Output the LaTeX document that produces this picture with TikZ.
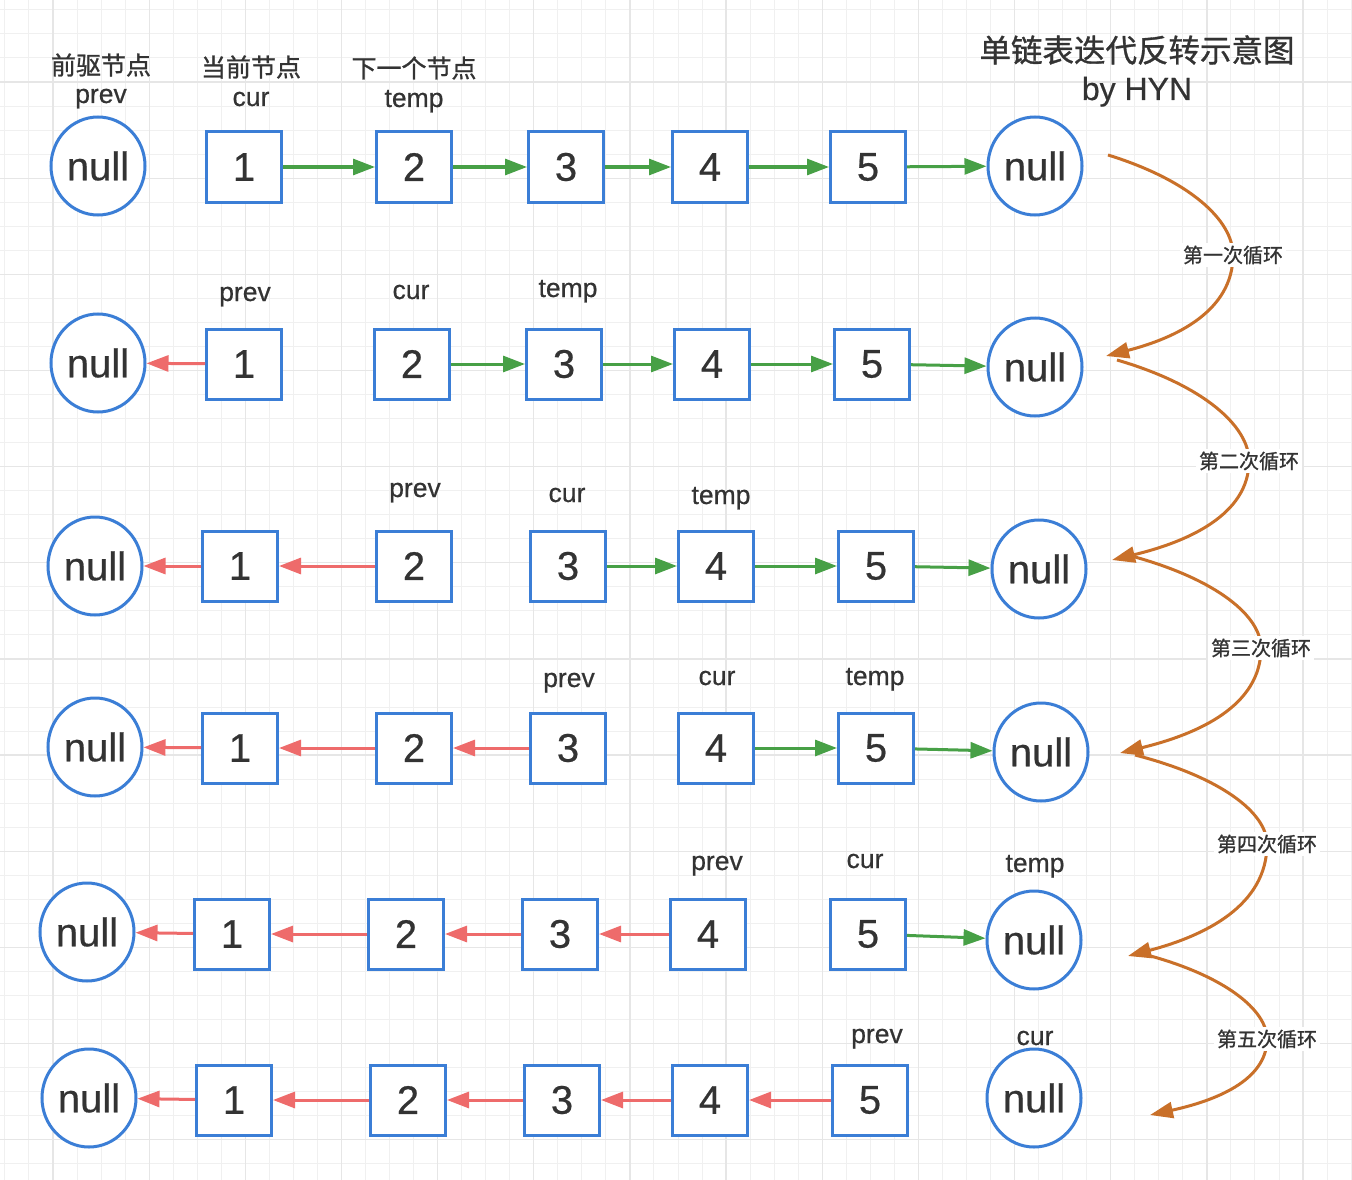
\documentclass[tikz,border=0pt]{standalone}
\usepackage{fontspec}
\setmainfont[FakeBold=0.5]{Liberation Sans}
\newfontfamily\cjk[FakeBold=1]{Noto Sans CJK SC}
\usetikzlibrary{arrows.meta,shapes.geometric}
\definecolor{nblue}{HTML}{3B7ED6}
\definecolor{ngreen}{HTML}{47A046}
\definecolor{nred}{HTML}{EE6B6B}
\definecolor{norange}{HTML}{C97029}
\definecolor{ntext}{HTML}{333333}
\definecolor{gminor}{HTML}{F0F0F0}
\definecolor{gmajor}{HTML}{E6E6E6}
\begin{document}
\begin{tikzpicture}[x=1pt,y=-1pt,
  box/.style={draw=nblue, line width=3pt, fill=white, minimum width=75pt, minimum height=70pt, inner sep=0pt, text=ntext, font=\fontsize{40}{48}\selectfont},
  nul/.style={ellipse, draw=nblue, line width=3pt, fill=white, minimum width=94pt, minimum height=98pt, inner sep=0pt, text=ntext, font=\fontsize{40}{48}\selectfont},
  ptr/.style={anchor=base, text=ntext, inner sep=0pt, font=\fontsize{26.5}{30}\selectfont},
  cjklab/.style={text=ntext, inner sep=0pt, font=\cjk\fontsize{25}{30}\selectfont},
  garrow/.style={draw=ngreen, line width=3pt, -{Triangle[length=22pt,width=16pt]}},
  rarrow/.style={draw=nred, line width=3pt, -{Triangle[length=22pt,width=16pt]}},
  oarrow/.style={draw=norange, line width=3pt, -{Triangle[length=23pt,width=16pt]}},
  looplab/.style={fill=white, text=ntext, inner sep=3pt, font=\cjk\fontsize{20}{24}\selectfont},
]
\useasboundingbox (0,0) rectangle (1352,1180);
\fill[white] (0,0) rectangle (1352,1180);
% grid
\foreach \k in {0,...,56} {
  \pgfmathsetmacro\xx{4.9+24.04*\k}
  \draw[gminor, line width=1pt] (\xx,0) -- (\xx,1180);
}
\foreach \k in {0,...,48} {
  \pgfmathsetmacro\yy{9.9+24.04*\k}
  \draw[gminor, line width=1pt] (0,\yy) -- (1352,\yy);
}
\foreach \k in {0,...,13} {
  \pgfmathsetmacro\xx{53+96.16*\k}
  \draw[gmajor, line width=1.3pt] (\xx,0) -- (\xx,1180);
}
\foreach \k in {0,...,11} {
  \pgfmathsetmacro\yy{82+96.16*\k}
  \draw[gmajor, line width=1.3pt] (0,\yy) -- (1352,\yy);
}

% title
\node[cjklab, font=\cjk\fontsize{31.5}{36}\selectfont] (title) at (1137,50) {单链表迭代反转示意图};
\node[ptr, font=\fontsize{32}{36}\selectfont] (author) at (1137,100) {by HYN};

% ---------- row 1
\node[nul] (r1n0) at (98,166) {null};
\node[box] (r1b1) at (244,167) {1};
\node[box] (r1b2) at (414,167) {2};
\node[box] (r1b3) at (566,167) {3};
\node[box] (r1b4) at (710,167) {4};
\node[box] (r1b5) at (868,167) {5};
\node[nul] (r1n6) at (1035,166) {null};
\node[cjklab] (r1c1) at (101,65) {前驱节点};
\node[cjklab] (r1c2) at (251,67) {当前节点};
\node[cjklab] (r1c3) at (414,68) {下一个节点};
\node[ptr] (r1p) at (101,103) {prev};
\node[ptr] (r1c) at (251,106) {cur};
\node[ptr] (r1t) at (414,107) {temp};
\draw[garrow] (r1b1) -- (r1b2);
\draw[garrow] (r1b2) -- (r1b3);
\draw[garrow] (r1b3) -- (r1b4);
\draw[garrow] (r1b4) -- (r1b5);
\draw[garrow] (r1b5) -- (r1n6);

% ---------- row 2
\node[nul] (r2n0) at (98,363) {null};
\node[box] (r2b1) at (244,364) {1};
\node[box] (r2b2) at (412,364) {2};
\node[box] (r2b3) at (564,364) {3};
\node[box] (r2b4) at (712,364) {4};
\node[box] (r2b5) at (872,364) {5};
\node[nul] (r2n6) at (1035,367) {null};
\node[ptr] (r2p) at (245,301) {prev};
\node[ptr] (r2c) at (411,299) {cur};
\node[ptr] (r2t) at (568,297) {temp};
\draw[rarrow] (r2b1) -- (r2n0);
\draw[garrow] (r2b2) -- (r2b3);
\draw[garrow] (r2b3) -- (r2b4);
\draw[garrow] (r2b4) -- (r2b5);
\draw[garrow] (r2b5) -- (r2n6);

% ---------- row 3
\node[nul] (r3n0) at (95,566) {null};
\node[box] (r3b1) at (240,566) {1};
\node[box] (r3b2) at (414,566) {2};
\node[box] (r3b3) at (568,566) {3};
\node[box] (r3b4) at (716,566) {4};
\node[box] (r3b5) at (876,566) {5};
\node[nul] (r3n6) at (1039,569) {null};
\node[ptr] (r3p) at (415,497) {prev};
\node[ptr] (r3c) at (567,502) {cur};
\node[ptr] (r3t) at (721,504) {temp};
\draw[rarrow] (r3b1) -- (r3n0);
\draw[rarrow] (r3b2) -- (r3b1);
\draw[garrow] (r3b3) -- (r3b4);
\draw[garrow] (r3b4) -- (r3b5);
\draw[garrow] (r3b5) -- (r3n6);

% ---------- row 4
\node[nul] (r4n0) at (95,747) {null};
\node[box] (r4b1) at (240,748) {1};
\node[box] (r4b2) at (414,748) {2};
\node[box] (r4b3) at (568,748) {3};
\node[box] (r4b4) at (716,748) {4};
\node[box] (r4b5) at (876,748) {5};
\node[nul] (r4n6) at (1041,752) {null};
\node[ptr] (r4p) at (569,687) {prev};
\node[ptr] (r4c) at (717,685) {cur};
\node[ptr] (r4t) at (875,685) {temp};
\draw[rarrow] (r4b1) -- (r4n0);
\draw[rarrow] (r4b2) -- (r4b1);
\draw[rarrow] (r4b3) -- (r4b2);
\draw[garrow] (r4b4) -- (r4b5);
\draw[garrow] (r4b5) -- (r4n6);

% ---------- row 5
\node[nul] (r5n0) at (87,932) {null};
\node[box] (r5b1) at (232,934) {1};
\node[box] (r5b2) at (406,934) {2};
\node[box] (r5b3) at (560,934) {3};
\node[box] (r5b4) at (708,934) {4};
\node[box] (r5b5) at (868,934) {5};
\node[nul] (r5n6) at (1034,940) {null};
\node[ptr] (r5p) at (717,870) {prev};
\node[ptr] (r5c) at (865,868) {cur};
\node[ptr] (r5t) at (1035,872) {temp};
\draw[rarrow] (r5b1) -- (r5n0);
\draw[rarrow] (r5b2) -- (r5b1);
\draw[rarrow] (r5b3) -- (r5b2);
\draw[rarrow] (r5b4) -- (r5b3);
\draw[garrow] (r5b5) -- (r5n6);

% ---------- row 6
\node[nul] (r6n0) at (89,1098) {null};
\node[box] (r6b1) at (234,1100) {1};
\node[box] (r6b2) at (408,1100) {2};
\node[box] (r6b3) at (562,1100) {3};
\node[box] (r6b4) at (710,1100) {4};
\node[box] (r6b5) at (870,1100) {5};
\node[nul] (r6n6) at (1034,1098) {null};
\node[ptr] (r6p) at (877,1043) {prev};
\node[ptr] (r6c) at (1035,1045) {cur};
\draw[rarrow] (r6b1) -- (r6n0);
\draw[rarrow] (r6b2) -- (r6b1);
\draw[rarrow] (r6b3) -- (r6b2);
\draw[rarrow] (r6b4) -- (r6b3);
\draw[rarrow] (r6b5) -- (r6b4);

% ---------- loop curves
\coordinate (s1) at (1108,155); \coordinate (m1) at (1233,255); \coordinate (e1) at (1106,356);
\draw[oarrow] (s1) .. controls (1189,180) and (1233,220) .. (m1) .. controls (1233,311) and (1176,338) .. (e1);
\node[looplab] (l1) at (m1) {第一次循环};

\coordinate (s2) at (1117,360); \coordinate (m2) at (1249,461); \coordinate (e2) at (1112,560);
\draw[oarrow] (s2) .. controls (1203,385) and (1249,426) .. (m2) .. controls (1249,515) and (1187,542) .. (e2);
\node[looplab] (l2) at (m2) {第二次循环};

\coordinate (s3) at (1135,557); \coordinate (m3) at (1261,648); \coordinate (e3) at (1120,753);
\draw[oarrow] (s3) .. controls (1217,580) and (1261,616) .. (m3) .. controls (1261,706) and (1198,734) .. (e3);
\node[looplab] (l3) at (m3) {第三次循环};

\coordinate (s4) at (1135,755); \coordinate (m4) at (1267,844); \coordinate (e4) at (1128,956);
\draw[oarrow] (s4) .. controls (1221,777) and (1267,813) .. (m4) .. controls (1267,906) and (1204,936) .. (e4);
\node[looplab] (l4) at (m4) {第四次循环};

\coordinate (s5) at (1147,955); \coordinate (m5) at (1267,1039); \coordinate (e5) at (1150,1115);
\draw[oarrow] (s5) .. controls (1225,976) and (1267,1010) .. (m5) .. controls (1267,1081) and (1214,1101) .. (e5);
\node[looplab] (l5) at (m5) {第五次循环};
\end{tikzpicture}
\end{document}
